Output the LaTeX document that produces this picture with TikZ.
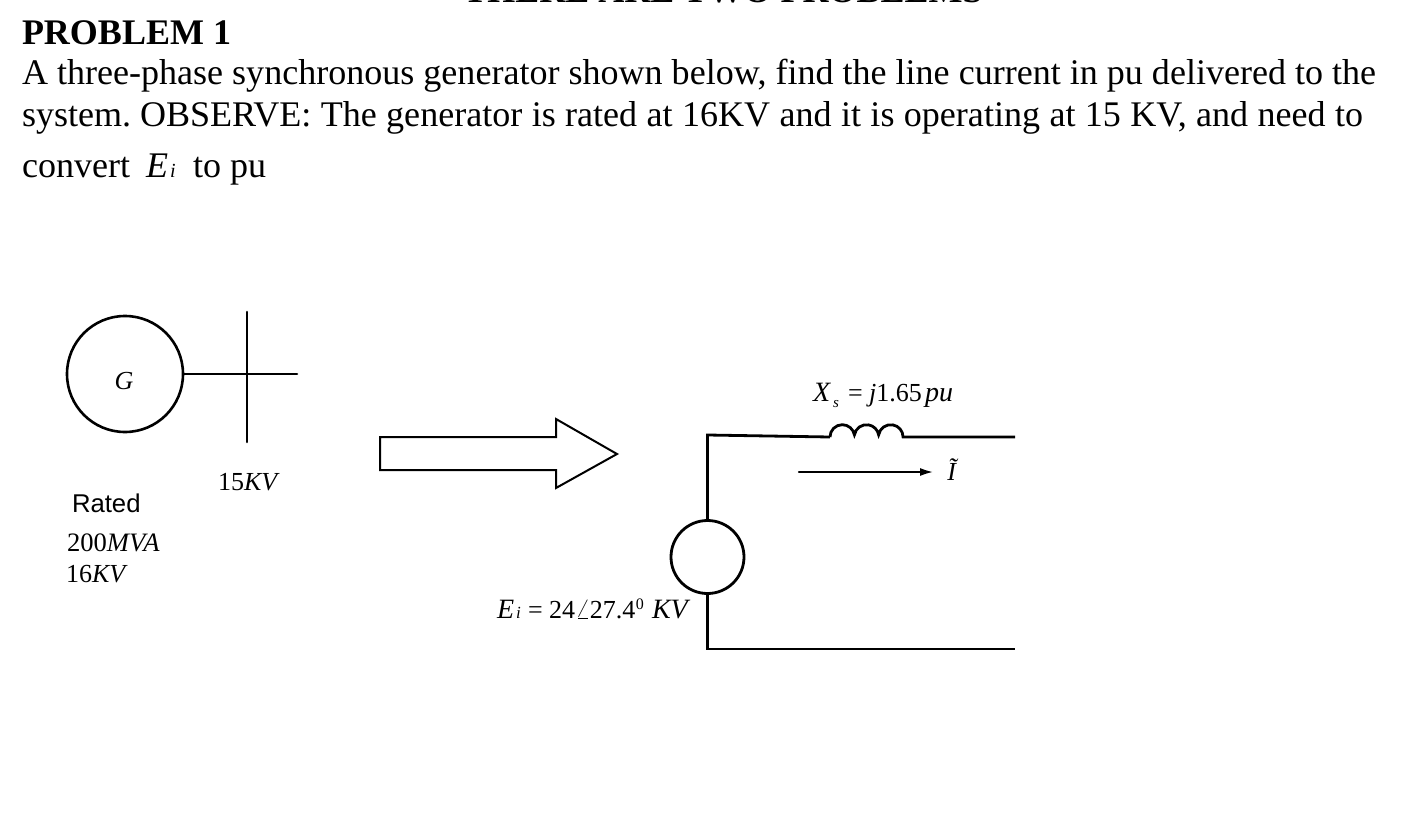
\documentclass[tikz,border=0pt]{standalone}
\usepackage{fontspec}
\setmainfont{Liberation Serif}
\newfontfamily\helv{Liberation Sans}
\usetikzlibrary{arrows.meta}
\tikzset{
  txt/.style={anchor=base west,inner sep=0pt,outer sep=0pt,text=black},
  head/.style={txt,font=\fontsize{36.05}{36}\selectfont},
  lab/.style={txt,font=\fontsize{26}{26}\selectfont},
  big lab/.style={txt,font=\fontsize{28}{28}\selectfont},
  wire/.style={draw=black,line width=2.6pt,line cap=round},
  cwire/.style={draw=black,line width=2.8pt,line cap=butt,line join=miter},
  thin wire/.style={draw=black,line width=2.4pt,line cap=round},
  ring/.style={circle,draw=black,line width=2.6pt,inner sep=0pt},
  cring/.style={circle,draw=black,line width=2.8pt,inner sep=0pt},
}
\begin{document}
\begin{tikzpicture}[x=1pt,y=-1pt]
\useasboundingbox (0,0) rectangle (1428,822);
\fill[white] (0,0) rectangle (1428,822);
\begin{scope}
\clip (0,0) rectangle (1428,822);
\node[head,anchor=base,font=\fontsize{36}{36}\selectfont\bfseries] (top) at (723,2.5) {THERE ARE TWO PROBLEMS};
\node[head,font=\fontsize{36}{36}\selectfont\bfseries] (title) at (22,44) {PROBLEM 1};
\node[head] (l1) at (22,84) {A three-phase synchronous generator shown below, find the line current in pu delivered to the};
\node[head] (l2a) at (22,126) {system.};
\node[head] (l2b) at (140,126) {\spaceskip=9.4pt OBSERVE: The generator is rated at 16KV and it is operating at 15 KV, and need to};
\node[head] (l3a) at (22,177) {convert};
\node[head] (l3b) at (146,177) {\textit{E}};
\node[txt,font=\fontsize{20}{20}\selectfont\itshape] (l3c) at (170,177) {i};
\node[head] (l3d) at (193,177) {to pu};
\end{scope}

% generator
\node[ring,minimum size=116pt] (gen) at (125,374) {};
\node[lab,anchor=base] (glabel) at (124,389) {\textit{G}};
\coordinate (busT) at (247,312);
\coordinate (busB) at (247,442);
\coordinate (busM) at (247,374);
\coordinate (stub) at (297,374);
\draw[wire] (busT) -- (busB);
\draw[wire] (gen.east) -- (busM) -- (stub);
\node[lab] (kv15) at (218,490) {15\textit{KV}};
\node[lab,font=\helv\fontsize{25.7}{26}\selectfont] (rated) at (72,512) {Rated};
\node[lab,font=\fontsize{26.6}{26}\selectfont] (mva) at (67,551) {200\textit{MVA}};
\node[lab] (kv16) at (66,582) {16\textit{KV}};

% block arrow
\coordinate (a1) at (380,437);
\coordinate (a2) at (556,437);
\coordinate (a3) at (556,419);
\coordinate (a4) at (617,454);
\coordinate (a5) at (556,488);
\coordinate (a6) at (556,470);
\coordinate (a7) at (380,470);
\draw[draw=black,line width=2pt,line join=miter] (a1) -- (a2) -- (a3) -- (a4) -- (a5) -- (a6) -- (a7) -- cycle;

% circuit
\node[cring,minimum size=73pt] (src) at (707.5,557) {};
\coordinate (tl) at (707.5,435);
\coordinate (bl) at (707.5,649);
\coordinate (ind1) at (830,437);
\coordinate (tr) at (1015,437);
\coordinate (br) at (1015,649);
\draw[cwire] (src.north) -- (tl) -- (ind1);
\draw[cwire] (ind1) arc[start angle=180,end angle=10,radius=12.3pt]
  arc[start angle=170,end angle=10,radius=12.3pt]
  arc[start angle=170,end angle=0,radius=12.3pt] -- (tr);
\draw[cwire] (src.south) -- (bl) -- (br);
\coordinate (ia) at (799,472);
\coordinate (ib) at (934,472);
\draw[thin wire,-{Latex[length=14pt,width=8pt]}] (ia) -- (ib);
\node[lab,anchor=base] (itil) at (953,480) {\textit{Ĩ}};
\node[big lab] (xs) at (813,401) {\textit{X}};
\node[txt,font=\fontsize{15}{15}\selectfont\itshape] (xss) at (833,407) {s};
\node[lab] (xsv) at (848,401) {= \textit{j}1.65};
\node[big lab] (xsu) at (925,401) {\textit{pu}};
\node[big lab] (ei) at (497,618) {\textit{E}};
\node[txt,font=\fontsize{17}{17}\selectfont\itshape] (eis) at (516,618) {i};
\node[lab] (eiv) at (528,618) {= 24\kern0.5pt\scalebox{1.1}{$\angle$}\kern-0.5pt 27.4\kern0.5pt\raisebox{9pt}{\fontsize{16}{16}\selectfont 0}};
\node[big lab] (eik) at (652,618) {\textit{KV}};
\end{tikzpicture}
\end{document}
